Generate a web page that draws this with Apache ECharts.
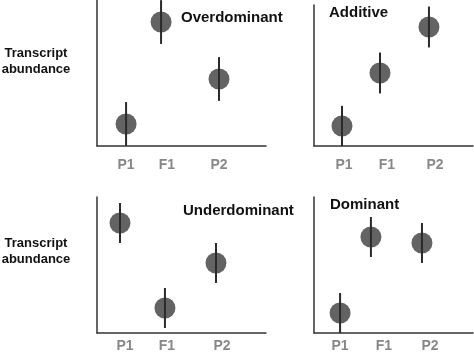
<!DOCTYPE html>
<html>
<head>
<meta charset="utf-8">
<script src="https://cdn.jsdelivr.net/npm/echarts@6/dist/echarts.min.js"></script>
<style>html,body{margin:0;padding:0;background:#fff;}#c{width:474px;height:353px;}</style>
</head>
<body>
<div id="c"></div>
<script>
const categories = ['P1', 'F1', 'P2'];
const panelTitles = ['Overdominant', 'Additive', 'Underdominant', 'Dominant'];
const yAxisTitle = 'Transcript\nabundance';

// x positions (0-100 scale along axis), transcript abundance (0-100), error half-widths
const overdomX = [17.2, 37.9, 72.2];
const overdomY = [15.1, 84.9, 45.9];
const overdomErr = [15, 15, 15];
const overdomLabelX = [17.2, 41.4, 72.2];

const additiveX = [17.6, 41.5, 72.3];
const additiveY = [14.2, 51.8, 84.4];
const additiveErr = [14.3, 14.5, 14.5];
const additiveLabelX = [18.9, 45.9, 76.1];

const underdomX = [13.6, 40.2, 70.4];
const underdomY = [80.9, 18.4, 51.5];
const underdomErr = [14.7, 14.7, 14.7];
const underdomLabelX = [16.6, 41.4, 74.0];

const dominantX = [16.4, 35.8, 67.9];
const dominantY = [14.7, 70.6, 66.2];
const dominantErr = [14.7, 14.7, 14.7];
const dominantLabelX = [16.4, 44.0, 73.0];

const panels = [
  {x: overdomX, y: overdomY, e: overdomErr, lx: overdomLabelX},
  {x: additiveX, y: additiveY, e: additiveErr, lx: additiveLabelX},
  {x: underdomX, y: underdomY, e: underdomErr, lx: underdomLabelX},
  {x: dominantX, y: dominantY, e: dominantErr, lx: dominantLabelX}
];

const grids = [
  {left: 97, top: 0, width: 169, height: 146},
  {left: 314, top: 5, width: 159, height: 141},
  {left: 97, top: 197, width: 169, height: 136},
  {left: 314, top: 197, width: 159, height: 136}
];
const labelMargins = [12, 12, 6, 6];
const titlePos = [[181, 19], [329, 14], [183, 212], [330, 206]];

const axisLineStyle = {color: '#333', width: 1.5};

const option = {
  animation: false,
  backgroundColor: '#fff',
  grid: grids.map(g => Object.assign({containLabel: false}, g)),
  xAxis: panels.map((p, i) => ({
    type: 'value', gridIndex: i, min: 0, max: 100,
    axisLine: {show: true, onZero: false, lineStyle: axisLineStyle},
    axisTick: {show: false},
    splitLine: {show: false},
    axisLabel: {
      show: true,
      customValues: p.lx,
      margin: labelMargins[i],
      color: '#888888',
      fontSize: 14,
      fontWeight: 'bold',
      fontFamily: 'Liberation Sans, Arial, sans-serif',
      formatter: function (v) {
        let best = 0, bd = Infinity;
        p.lx.forEach((lv, k) => { const d = Math.abs(lv - v); if (d < bd) { bd = d; best = k; } });
        return categories[best];
      }
    }
  })),
  yAxis: panels.map((p, i) => ({
    type: 'value', gridIndex: i, min: 0, max: 100,
    axisLine: {show: true, onZero: false, lineStyle: axisLineStyle},
    axisTick: {show: false},
    axisLabel: {show: false},
    splitLine: {show: false}
  })),
  series: [],
  graphic: []
};

panels.forEach((p, i) => {
  option.series.push({
    type: 'scatter', xAxisIndex: i, yAxisIndex: i,
    symbol: 'circle', symbolSize: [21, 21],
    itemStyle: {color: '#3c3c3c'},
    z: 2,
    data: p.x.map((xv, k) => [xv, p.y[k]])
  });
  option.series.push({
    type: 'custom', xAxisIndex: i, yAxisIndex: i,
    z: 3, clip: false,
    renderItem: function (params, api) {
      const x = api.value(0), y = api.value(1), e = api.value(2);
      const a = api.coord([x, y - e]);
      const b = api.coord([x, y + e]);
      return {type: 'line', shape: {x1: a[0], y1: a[1], x2: b[0], y2: b[1]},
        style: {stroke: '#2a2a2a', lineWidth: 2}};
    },
    data: p.x.map((xv, k) => [xv, p.y[k], p.e[k]])
  });
  option.graphic.push({
    type: 'text', left: titlePos[i][0], top: titlePos[i][1] - 9,
    style: {text: panelTitles[i], font: 'bold 15px "Liberation Sans", Arial, sans-serif', fill: '#111'}
  });
});

[61, 251].forEach(cy => {
  option.graphic.push({
    type: 'text', x: 36, y: cy,
    style: {text: yAxisTitle, font: 'bold 13px "Liberation Sans", Arial, sans-serif', fill: '#111',
      textAlign: 'center', textVerticalAlign: 'middle', lineHeight: 16}
  });
});

const chart = echarts.init(document.getElementById('c'), null, {renderer: 'canvas'});
chart.setOption(option);
</script>
</body>
</html>
